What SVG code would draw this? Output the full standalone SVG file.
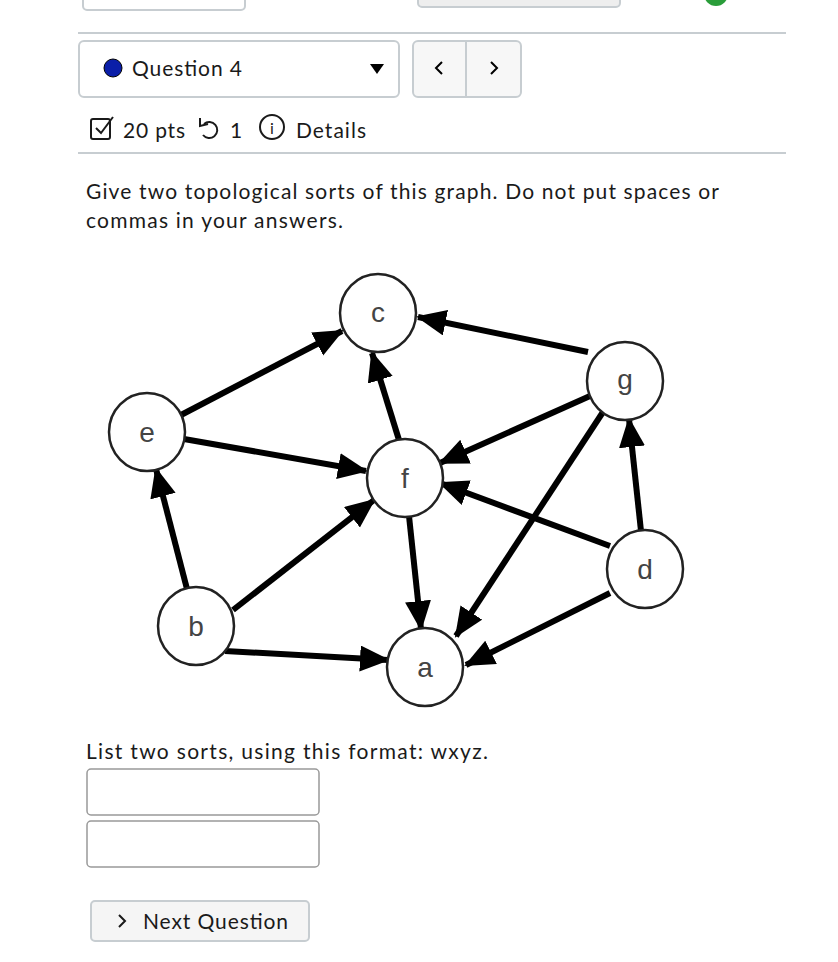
<svg xmlns="http://www.w3.org/2000/svg" width="838" height="962" viewBox="0 0 838 962">
<style>
.t{font-family:Lato,"Liberation Sans",sans-serif;fill:#1a1a1a;}
.n ellipse{fill:#fff;stroke:#222;stroke-width:2.5}
.n text{font-family:"Liberation Sans",Arial,sans-serif;font-size:28px;fill:#444;text-anchor:middle}
.e line{stroke:#000;stroke-width:6;marker-end:url(#ah)}
.box{fill:#fff;stroke:#c7cdd1;stroke-width:2}
</style>
<defs>
<marker id="ah" markerUnits="userSpaceOnUse" markerWidth="32" markerHeight="28" refX="28" refY="13" orient="auto"><path d="M0,0 L30,13 L0,26 z" fill="#000"/></marker>
</defs>
<rect width="838" height="962" fill="#fff"/>
<g id="top">
<rect class="box" x="83" y="-20" width="162" height="30" rx="4"/>
<rect x="418" y="-20" width="202" height="27" rx="4" fill="#eee" stroke="#c7cdd1" stroke-width="2"/>
<circle cx="716" cy="-6" r="12" fill="#2a9d3a"/>
<line x1="78" y1="33" x2="786" y2="33" stroke="#c7cdd1" stroke-width="2"/>
<rect class="box" x="79" y="41" width="320" height="56" rx="5"/>
<circle cx="113" cy="68" r="9" fill="#0a1ea8" stroke="#000" stroke-width="1"/>
<text class="t" x="132" y="76" font-size="21" textLength="110">Question 4</text>
<path d="M370,64 L384,64 L377,74 z" fill="#000"/>
<rect x="413" y="41" width="108" height="56" rx="5" fill="#f7f7f7" stroke="#c7cdd1" stroke-width="2"/>
<line x1="466" y1="42" x2="466" y2="96" stroke="#c7cdd1" stroke-width="2"/>
<path d="M442,62 L436,68 L442,74 M491,62 L497,68 L491,74" fill="none" stroke="#000" stroke-width="2"/>
<rect x="91" y="119" width="19" height="20" rx="2" fill="none" stroke="#1a1a1a" stroke-width="2"/>
<path d="M96,128 L101,133 L113,117" fill="none" stroke="#1a1a1a" stroke-width="2"/>
<text class="t" x="123" y="138" font-size="21" textLength="62">20 pts</text>
<path d="M204,124 A8,8 0 1 1 203,135" fill="none" stroke="#1a1a1a" stroke-width="2"/>
<path d="M200,118 L200,126 L208,124" fill="none" stroke="#1a1a1a" stroke-width="2"/>
<text class="t" x="230" y="138" font-size="21">1</text>
<circle cx="272" cy="127" r="12" fill="none" stroke="#1a1a1a" stroke-width="2"/>
<text class="t" x="272" y="134" font-size="16" text-anchor="middle">i</text>
<text class="t" x="296" y="138" font-size="21" textLength="70">Details</text>
<line x1="78" y1="153" x2="786" y2="153" stroke="#c7cdd1" stroke-width="2"/>
</g>
<g id="question">
<text class="t" x="86" y="199" font-size="21" textLength="633">Give two topological sorts of this graph. Do not put spaces or</text>
<text class="t" x="86" y="228" font-size="21" textLength="257">commas in your answers.</text>
</g>
<g id="connectors" class="e">
<line x1="181" y1="415" x2="342" y2="331"/>
<line x1="588" y1="352" x2="418" y2="317"/>
<line x1="399" y1="440" x2="372" y2="353"/>
<line x1="184" y1="439" x2="366" y2="471"/>
<line x1="590" y1="396" x2="440" y2="463"/>
<line x1="610" y1="546" x2="440" y2="483"/>
<line x1="233" y1="610" x2="374" y2="500"/>
<line x1="187" y1="589" x2="156" y2="469"/>
<line x1="641" y1="531" x2="629" y2="419"/>
<line x1="409" y1="516" x2="421" y2="629"/>
<line x1="603" y1="412" x2="456" y2="636"/>
<line x1="225" y1="651" x2="388" y2="660"/>
<line x1="610" y1="593" x2="466" y2="665"/>
</g>
<g id="node-c" class="n"><ellipse cx="378" cy="313" rx="38" ry="39"/><text x="378" y="322">c</text></g>
<g id="node-g" class="n"><ellipse cx="625" cy="381" rx="38" ry="39"/><text x="625" y="389">g</text></g>
<g id="node-e" class="n"><ellipse cx="147" cy="432" rx="38" ry="39"/><text x="147" y="442">e</text></g>
<g id="node-f" class="n"><ellipse cx="405" cy="478" rx="38" ry="39"/><text x="405" y="488">f</text></g>
<g id="node-d" class="n"><ellipse cx="645" cy="569" rx="38" ry="39"/><text x="645" y="579">d</text></g>
<g id="node-b" class="n"><ellipse cx="196" cy="626" rx="38" ry="39"/><text x="196" y="636">b</text></g>
<g id="node-a" class="n"><ellipse cx="425" cy="667" rx="38" ry="39"/><text x="425" y="677">a</text></g>
<g id="answers">
<text class="t" x="86" y="759" font-size="21" textLength="402">List two sorts, using this format: wxyz.</text>
<rect x="87" y="769" width="232" height="46" rx="4" fill="#fff" stroke="#999" stroke-width="1.5"/>
<rect x="87" y="821" width="232" height="46" rx="4" fill="#fff" stroke="#999" stroke-width="1.5"/>
<rect x="91" y="901" width="218" height="40" rx="4" fill="#f5f5f5" stroke="#c7cdd1" stroke-width="2"/>
<path d="M119,915 L125,921 L119,927" fill="none" stroke="#1a1a1a" stroke-width="2"/>
<text class="t" x="143" y="929" font-size="21" textLength="145">Next Question</text>
</g>
</svg>
